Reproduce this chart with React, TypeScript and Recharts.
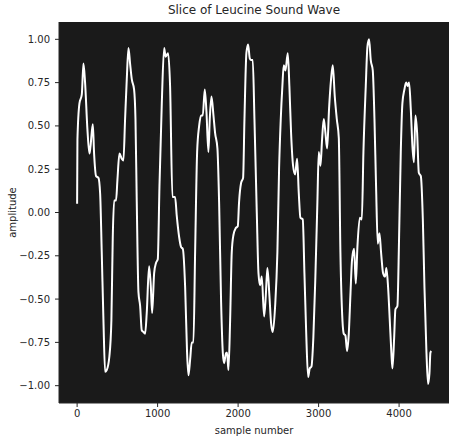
import { CartesianGrid, Label, Line, LineChart, XAxis, YAxis } from 'recharts'

// sample positions (x axis)
const sampleNumbers = [
  0, 4, 29, 58, 79, 99, 128, 153, 166, 195, 211, 236, 265, 286, 306, 327, 348, 368, 401, 426,
  443, 460, 484, 501, 526, 555, 575, 596, 617, 638, 658, 679, 708, 725, 741, 762, 783, 803, 824, 845,
  865, 894, 915, 932, 957, 981, 1002, 1023, 1052, 1081, 1100, 1130, 1155, 1184, 1217, 1238, 1267, 1292, 1313, 1342,
  1366, 1383, 1404, 1424, 1445, 1466, 1491, 1516, 1540, 1561, 1586, 1607, 1631, 1648, 1669, 1694, 1714, 1743, 1764, 1789,
  1810, 1826, 1851, 1863, 1880, 1901, 1921, 1942, 1971, 1996, 2012, 2037, 2062, 2079, 2103, 2124, 2145, 2161, 2182, 2203,
  2232, 2253, 2273, 2294, 2323, 2344, 2364, 2389, 2410, 2431, 2460, 2488, 2509, 2530, 2550, 2567, 2588, 2617, 2637, 2658,
  2683, 2708, 2733, 2754, 2774, 2803, 2824, 2845, 2870, 2890, 2911, 2935, 2960, 2985, 3002, 3023, 3043, 3064, 3085, 3106,
  3130, 3155, 3176, 3201, 3226, 3251, 3271, 3296, 3313, 3333, 3354, 3375, 3395, 3416, 3441, 3462, 3482, 3512, 3537, 3557,
  3586, 3607, 3627, 3648, 3673, 3694, 3714, 3735, 3756, 3776, 3801, 3826, 3842, 3863, 3884, 3904, 3917, 3938, 3954, 3979,
  4000, 4021, 4041, 4066, 4087, 4108, 4124, 4145, 4166, 4184, 4203, 4224, 4245, 4270, 4295, 4315, 4340, 4360, 4377, 4389,
  4400,
]

const amplitudes = [
  0.05, 0.42, 0.63, 0.68, 0.86, 0.75, 0.48, 0.34, 0.38, 0.51, 0.34, 0.21, 0.2, 0.11, -0.23, -0.62, -0.92, -0.91, -0.83, -0.62,
  -0.14, 0.07, 0.07, 0.19, 0.34, 0.31, 0.3, 0.54, 0.77, 0.95, 0.86, 0.77, 0.71, 0.54, 0.06, -0.46, -0.54, -0.68, -0.69, -0.7,
  -0.58, -0.31, -0.42, -0.58, -0.35, -0.29, -0.27, 0.15, 0.63, 0.95, 0.9, 0.92, 0.73, 0.09, 0.09, -0.02, -0.14, -0.2, -0.21, -0.43,
  -0.81, -0.94, -0.85, -0.75, -0.75, -0.23, 0.35, 0.5, 0.56, 0.56, 0.71, 0.58, 0.35, 0.54, 0.67, 0.56, 0.46, 0.37, 0.06, -0.52,
  -0.81, -0.87, -0.81, -0.81, -0.91, -0.62, -0.23, -0.13, -0.09, -0.08, 0.06, 0.17, 0.2, 0.54, 0.92, 0.97, 0.89, 0.88, 0.88, 0.54,
  0.0, -0.35, -0.42, -0.37, -0.6, -0.48, -0.32, -0.48, -0.64, -0.69, -0.54, -0.23, 0.25, 0.54, 0.73, 0.85, 0.82, 0.92, 0.73, 0.46,
  0.27, 0.22, 0.31, 0.11, -0.03, -0.04, -0.35, -0.68, -0.95, -0.9, -0.89, -0.72, -0.37, 0.06, 0.35, 0.27, 0.42, 0.54, 0.46, 0.37,
  0.6, 0.77, 0.85, 0.67, 0.54, 0.43, -0.23, -0.62, -0.7, -0.71, -0.8, -0.7, -0.48, -0.27, -0.21, -0.41, -0.2, -0.03, -0.04, 0.35,
  0.73, 0.96, 1.0, 0.88, 0.82, 0.54, 0.15, -0.18, -0.12, -0.23, -0.35, -0.37, -0.32, -0.43, -0.62, -0.81, -0.9, -0.73, -0.56, -0.54,
  -0.14, 0.35, 0.63, 0.71, 0.75, 0.73, 0.75, 0.6, 0.38, 0.29, 0.56, 0.46, 0.23, 0.21, -0.04, -0.43, -0.81, -0.99, -0.93, -0.81,
  -0.8,
]

const xTicks = [0, 1000, 2000, 3000, 4000]
const yTicks = [-1, -0.75, -0.5, -0.25, 0, 0.25, 0.5, 0.75, 1]

const waveData = sampleNumbers.map((sample, i) => ({ sample, amplitude: amplitudes[i] }))

const font = '"DejaVu Sans", sans-serif'
const textColor = '#262626'
const tickStyle = { fill: textColor, fontSize: 10, fontFamily: font }

function formatAmplitude(value: number) {
  return value.toFixed(2).replace('-', '\u2212')
}

function renderYLabel(props: any) {
  const vb = props.viewBox ?? { y: 22, height: 381 }
  const cy = vb.y + vb.height / 2
  return (
    <text
      x={12}
      y={cy}
      transform={`rotate(-90, 12, ${cy})`}
      textAnchor="middle"
      dominantBaseline="central"
      fontSize={10}
      fontFamily={font}
      fill={textColor}
    >
      amplitude
    </text>
  )
}

export default function App() {
  return (
    <div style={{ position: 'absolute', left: 0, top: 0, width: 460, height: 441, background: '#fff' }}>
      <div
        style={{
          position: 'absolute',
          left: 59,
          top: 3,
          width: 390,
          textAlign: 'center',
          fontFamily: font,
          fontSize: 12,
          lineHeight: '14px',
          color: textColor,
        }}
      >
        Slice of Leucine Sound Wave
      </div>
      <LineChart
        width={460}
        height={441}
        data={waveData}
        margin={{ top: 22, right: 11, left: 0, bottom: 0 }}
      >
        <CartesianGrid horizontal={false} vertical={false} fill="#1a1a1a" />
        <XAxis
          dataKey="sample"
          type="number"
          domain={[-225, 4620]}
          ticks={xTicks}
          height={38}
          tickSize={4}
          tickMargin={3}
          tick={tickStyle}
          stroke={textColor}
          allowDataOverflow
        >
          <Label
            value="sample number"
            position="insideBottom"
            offset={7}
            style={{ fill: textColor, fontSize: 10, fontFamily: font }}
          />
        </XAxis>
        <YAxis
          dataKey="amplitude"
          type="number"
          domain={[-1.1, 1.1]}
          ticks={yTicks}
          width={59}
          tickSize={4}
          tickMargin={5}
          tick={tickStyle}
          tickFormatter={formatAmplitude}
          stroke={textColor}
          allowDataOverflow
        >
          <Label content={renderYLabel} />
        </YAxis>
        <Line
          dataKey="amplitude"
          type="monotone"
          stroke="#fff"
          strokeWidth={2}
          dot={false}
          isAnimationActive={false}
        />
      </LineChart>
    </div>
  )
}
